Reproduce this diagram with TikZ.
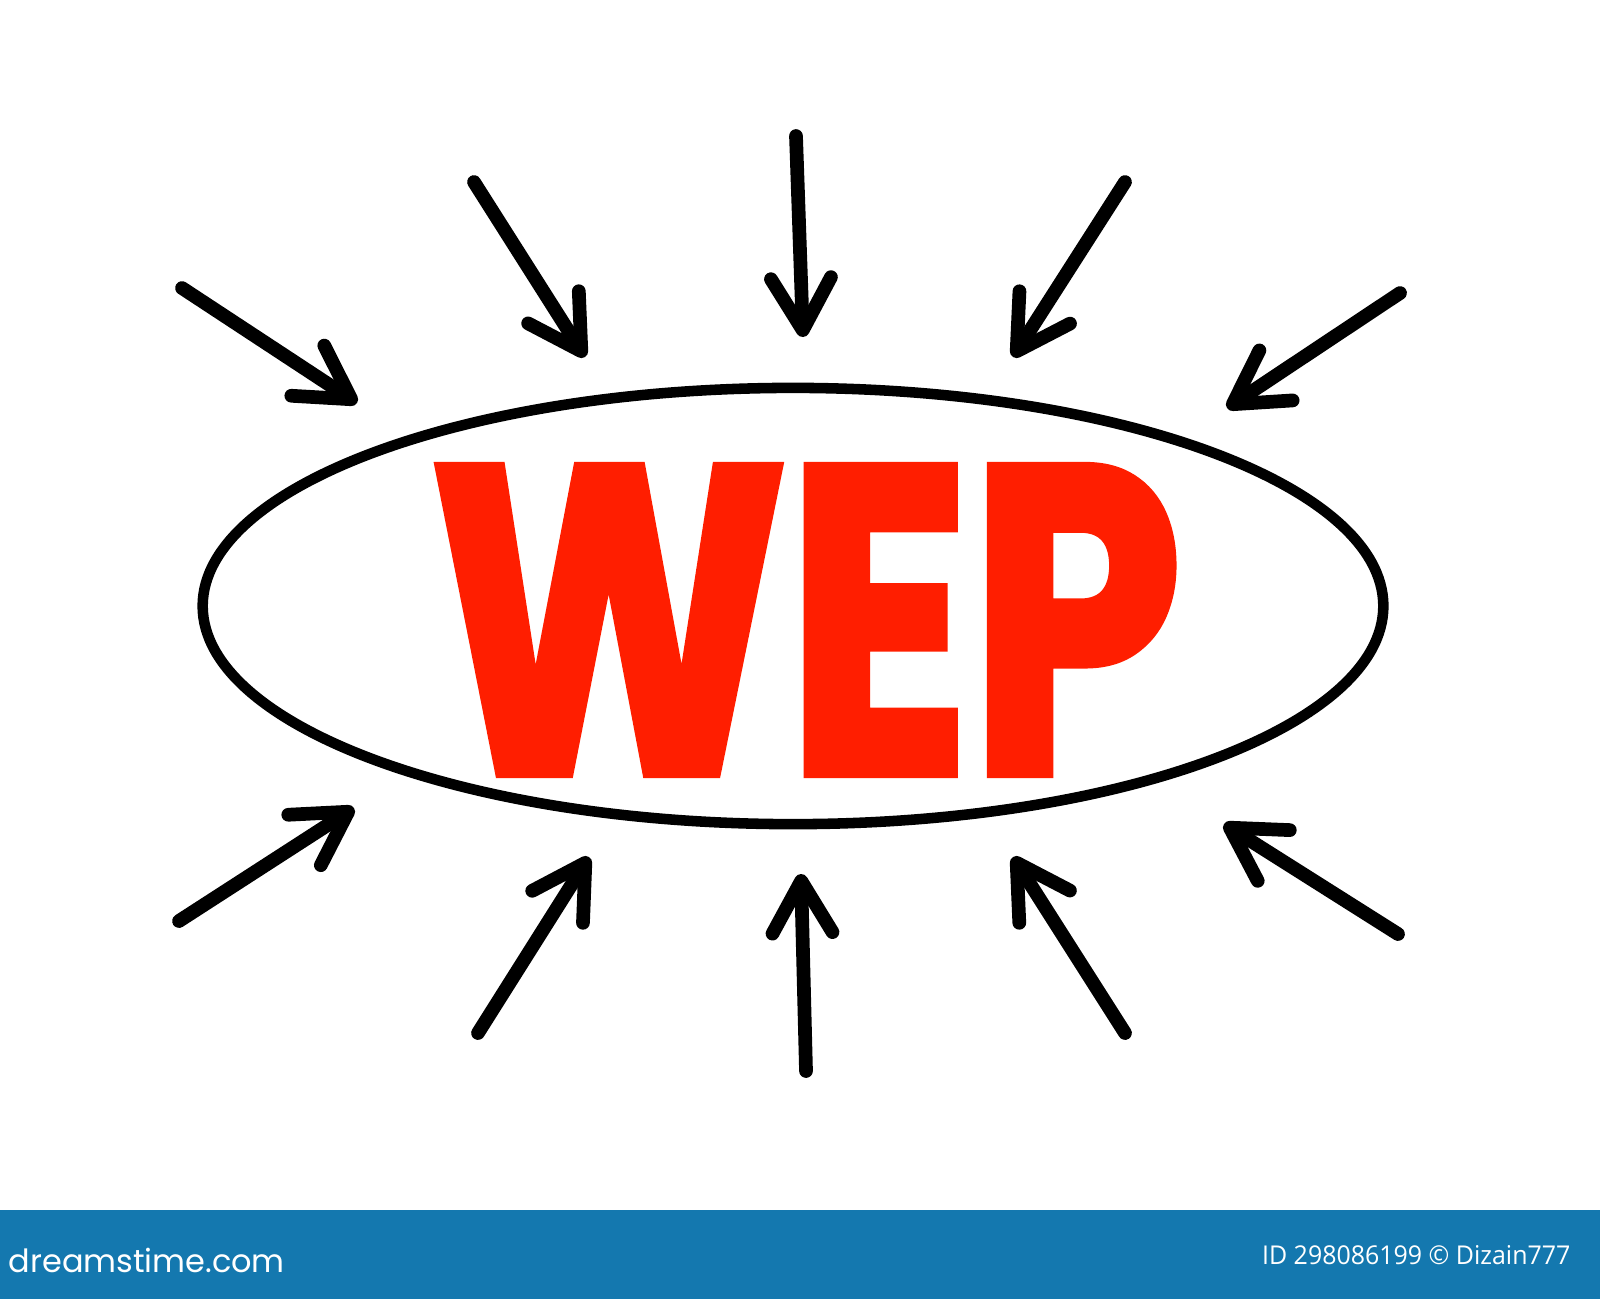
\documentclass[tikz,border=0pt]{standalone}
\usepackage{fontspec}
\usepackage{xcolor}
\usepackage{tikz}
\usetikzlibrary{shapes.geometric,arrows.meta}
\newfontfamily\wepfont{Poppins}[FakeBold=2.5]
\newfontfamily\logofont{Poppins}
\newfontfamily\idfont{Open Sans}
\definecolor{wepred}{HTML}{FF1E00}
\definecolor{bannerblue}{HTML}{1478AF}

\begin{document}
\begin{tikzpicture}[x=0.01cm, y=-0.01cm,
    pointer/.style={line width=3.9pt, line cap=round,
      -{Straight Barb[length=0.52cm, width=0.6cm, round]}}]
  \useasboundingbox (0,0) rectangle (1600,1299);

  % Oval with the word
  \node[draw, ellipse, line width=3pt, minimum width=11.8cm, minimum height=4.36cm] (oval) at (793,606) {};
  \node[inner sep=0pt, text=wepred] (wep) at (806,620) {\resizebox{7.5cm}{3.05cm}{\wepfont\bfseries WEP}};

  % Arrows pointing in
  \foreach \i/\sx/\sy/\ex/\ey in {1/182/288/357/403, 2/474/182/585/357, 3/796/136/803/337,
      4/1125/182/1013/357, 5/1400/293/1227/408, 6/179/921/354/808, 7/478/1033/589/857,
      8/806/1071/801/874, 9/1125/1033/1013/857, 10/1398/934/1224/824}{
    \coordinate (tail\i) at (\sx,\sy);
    \coordinate (head\i) at (\ex,\ey);
    \draw[pointer] (tail\i) -- (head\i);
  }

  % Banner
  \fill[bannerblue] (0,1210) rectangle (1600,1299);
  \node[anchor=south west, inner sep=0pt, text=white] (logo) at (8,1273) {\resizebox{2.76cm}{!}{\logofont dreamstime.com}};
  \node[anchor=south east, inner sep=0pt, text=white] (credit) at (1571,1265) {\resizebox{3.08cm}{0.19cm}{\idfont ID 298086199 © Dizain777}};
\end{tikzpicture}
\end{document}
